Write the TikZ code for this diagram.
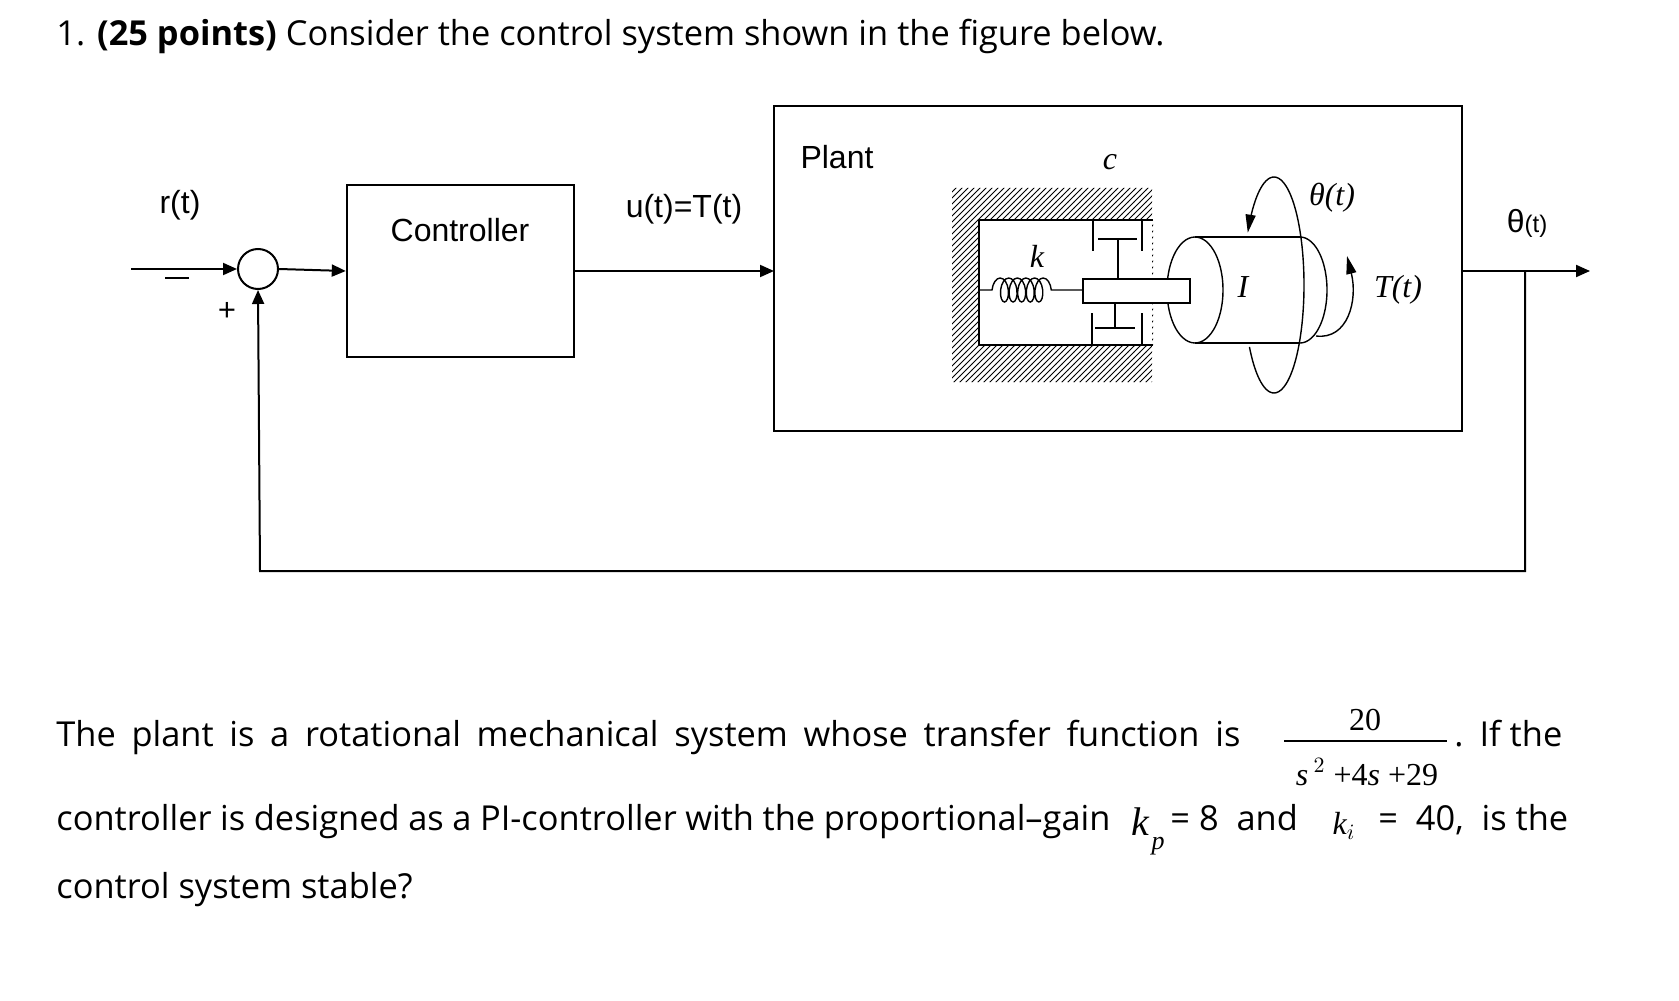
\documentclass[tikz,border=0pt]{standalone}
\usepackage{fontspec}
\setmainfont{Open Sans}
\newfontfamily\arial{Liberation Sans}
\newfontfamily\tms{Liberation Serif}
\usetikzlibrary{arrows.meta,patterns,decorations.pathmorphing}
\begin{document}
\begin{tikzpicture}[x=0.5pt,y=-0.5pt,
  blk/.style={draw,line width=1.2pt},
  sig/.style={line width=1pt,-{Triangle[length=7pt,width=6pt]}},
  lbl/.style={font=\arial\fontsize{16}{18}\selectfont},
  mech/.style={line width=0.7pt},
  ital/.style={font=\tms\itshape\fontsize{16}{18}\selectfont},
  body/.style={anchor=base west,inner sep=0pt,font=\fontsize{17.2}{20}\selectfont}]
\useasboundingbox[fill=white] (0,0) rectangle (1679,1000);
% title
\node[body] (title) at (56,46) {1. \textbf{(25 points)} Consider the control system shown in the figure below.};
% blocks
\node[blk,minimum width=113.5pt,minimum height=86pt] (ctrl) at (460.5,271) {};
\node[lbl] (ctrltxt) at (460,230) {Controller};
\draw[blk] (774,106) rectangle (1462,431);
\coordinate (plantL) at (774,271);
\coordinate (plantR) at (1462,271);
\node[lbl] (planttxt) at (837,157) {Plant};
\node[circle,draw,line width=1pt,minimum size=20pt,inner sep=0pt] (sum) at (258,269) {};
\coordinate (in) at (131,269);
\draw[sig] (in) -- (sum.west);
\node[lbl] (r) at (180,205) {r(t)};
\node (minus) at (177,278) {\rule{12pt}{0.6pt}};
\node[font=\fontsize{16}{18}\selectfont] (plus) at (227,312) {+};
\draw[sig] (sum.east) -- (ctrl.west);
\draw[sig] (ctrl.east) -- (plantL);
\node[lbl] (u) at (684,209) {u(t)=T(t)};
\coordinate (out) at (1590,271);
\coordinate (tap) at (1525,271);
\draw[sig] (plantR) -- (out);
\node[lbl] (th) at (1527,223) {θ\fontsize{12}{14}\selectfont(t)};
\coordinate (fb1) at (1525,571);
\coordinate (fb2) at (260,571);
\draw[sig] (tap) -- (fb1) -- (fb2) -- (sum.south);
% mechanism: wall
\fill[pattern=north east lines,even odd rule] (952,188) rectangle (1152,382) (979,220) rectangle (1153,345);
\draw[mech] (1153,220) -- (979,220) -- (979,345) -- (1153,345);
% spring
\draw[mech] (979,290) -- (992,290) decorate[decoration={coil,segment length=4.3pt,amplitude=6pt,aspect=0.5}] {-- (1057,290)} -- (1083,290);
% damper
\draw[mech] (1093,220) -- (1093,251) (1142,220) -- (1142,251);
\draw[mech] (1098,239) -- (1137,239) (1118,239) -- (1118,279);
\draw[mech] (1092,313) -- (1092,345) (1142,313) -- (1142,345);
\draw[mech] (1095,328) -- (1135,328) (1115,303) -- (1115,328);
% cylinder
\draw[mech] plot[domain=0:360,samples=60,smooth] ({1195+28*cos(\x)},{290-53*sin(\x)});
\draw[mech] (1195,237) -- (1300,237) (1195,343) -- (1300,343);
\draw[mech] plot[domain=-90:90,samples=30,smooth] ({1300+27*cos(\x)},{290-53*sin(\x)});
\draw[mech,fill=white] (1083,279) rectangle (1190,303);
% theta arrow
\draw[mech] plot[domain=-90:90,samples=40,smooth] ({1274+30*cos(\x)},{285-108*sin(\x)});
\draw[mech,-{Triangle[length=9pt,width=5pt]}] plot[domain=90:151,samples=20,smooth] ({1274+30*cos(\x)},{285-108*sin(\x)});
\draw[mech] plot[domain=215:270,samples=20,smooth] ({1274+30*cos(\x)},{285-108*sin(\x)});
% torque arrow
\draw[mech,-{Triangle[length=9pt,width=5pt]}] (1316,336) .. controls (1348,340) and (1358,300) .. (1347,256);
\node[ital] (ct) at (1110,162) {c};
\node[ital] (kt) at (1037,256) {k};
\node[ital] (it) at (1243,287) {I};
\node[ital] (tht) at (1332,198) {θ(t)};
\node[ital] (tt) at (1398,290) {T(t)};
% body text
\node[body] (l1) at (56,746) {\makebox[592pt][s]{The plant is a rotational mechanical system whose transfer function is}};
\node[font=\tms\fontsize{16}{18}\selectfont] (num) at (1365,720) {20};
\draw[line width=0.6pt] (1284,741) -- (1447,741);
\node[font=\tms\fontsize{16}{18}\selectfont] (den) at (1367,772) {\textit{s}\,$^{2}$ +4\textit{s} +29};
\node[body] (l1b) at (1454,746) {.\hspace{8pt}If the};
\node[body] (l2) at (56,830) {\makebox[527pt][s]{controller is designed as a PI-controller with the proportional–gain}};
\node[font=\tms\itshape\fontsize{20}{20}\selectfont] (kp) at (1140,822) {k};
\node[font=\tms\itshape\fontsize{13}{14}\selectfont] (kps) at (1158,846) {p};
\node[body] (l2b) at (1170,830) {= 8 \ and};
\node[font=\tms\itshape\fontsize{16}{18}\selectfont] (ki) at (1344,826) {k$_{i}$};
\node[body] (l2c) at (1378,830) {= \ 40, \ is the};
\node[body] (l3) at (56,898) {control system stable?};
\end{tikzpicture}
\end{document}
